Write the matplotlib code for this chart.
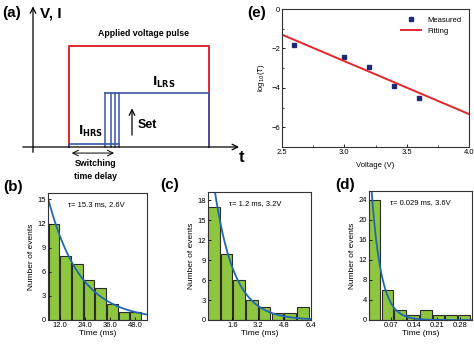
import numpy as np
import matplotlib
matplotlib.use('Agg')
import matplotlib.pyplot as plt
from matplotlib.ticker import MultipleLocator

plt.rcParams['font.family'] = ['Liberation Sans', 'DejaVu Sans']

W, H = 474, 347

# (a) switching schematic, arbitrary units
pulse_on, pulse_off = 1.0, 4.9
pulse_v = 1.0
i_hrs, i_lrs = 0.03, 0.535
switch_times = [2.0, 2.17, 2.28, 2.39]

# (b)-(d) switching time histograms
b_time = [9.0, 14.6, 20.2, 25.8, 31.4, 37.0, 42.6, 48.2]
b_counts = [12, 8, 7, 5, 4, 2, 1, 1]
b_tau, b_amp = 15.3, 22.6

c_time = [0.47, 1.24, 2.01, 2.79, 3.57, 4.36, 5.15, 5.94]
c_counts = [17, 10, 6, 3, 2, 1, 1, 2]
c_tau, c_amp = 1.2, 29.9

d_time = [0.020, 0.059, 0.097, 0.136, 0.175, 0.214, 0.252, 0.291]
d_counts = [24, 6, 2, 1, 2, 1, 1, 1]
d_tau, d_amp = 0.029, 37.5

# (e) log10(tau) vs voltage
volts = [2.6, 3.0, 3.2, 3.4, 3.6]
log_tau = [-1.83, -2.42, -2.92, -3.93, -4.53]
fit_v = [2.5, 4.0]
fit_log_tau = [-1.30, -5.33]

BAR = '#8fc640'
CURVE = '#2268b0'


def rect(left, top, right, bottom):
    return [left / W, 1 - bottom / H, (right - left) / W, (bottom - top) / H]


fig = plt.figure(figsize=(W / 100, H / 100), dpi=100)

# ---- (a) ----
ax = fig.add_axes(rect(0, 0, 250, 190))
ax.set_xlim(-33 / 36, 217 / 36)
ax.set_ylim(-43 / 101, 147 / 101)
ax.axis('off')
ax.annotate('', xy=(5.8, 0), xytext=(-0.36, 0),
            arrowprops=dict(arrowstyle='->', lw=0.9, color='black'))
ax.annotate('', xy=(0, 1.42), xytext=(0, -0.08),
            arrowprops=dict(arrowstyle='->', lw=0.9, color='black'))
ax.plot([pulse_on, pulse_on, pulse_off, pulse_off],
        [0, pulse_v, pulse_v, 0], color='#e0282e', lw=1.4)
blue = '#3a55a8'
ax.plot([pulse_on, pulse_on, switch_times[-1]], [0, i_hrs, i_hrs], color=blue, lw=1.2)
for t in switch_times:
    ax.plot([t, t], [0, i_lrs], color=blue, lw=1.1)
ax.plot([switch_times[0], pulse_off, pulse_off], [i_lrs, i_lrs, 0], color=blue, lw=1.2)
ax.annotate('', xy=(2.75, 0.41), xytext=(2.75, 0.09),
            arrowprops=dict(arrowstyle='->', lw=0.9, color='black'))
ax.text(2.92, 0.22, 'Set', fontsize=9, fontweight='bold', va='center')
ax.text(1.25, 0.08, r'$\mathbf{I_{HRS}}$', fontsize=8.5, va='bottom')
ax.text(3.3, 0.56, r'$\mathbf{I_{LRS}}$', fontsize=8.5, va='bottom')
ax.text(3.06, 1.12, 'Applied voltage pulse', fontsize=6.3, fontweight='bold',
        ha='center', va='center')
ax.annotate('', xy=(pulse_on, -0.06), xytext=(2.33, -0.06),
            arrowprops=dict(arrowstyle='<->', lw=0.7, color='black'))
ax.text(1.75, -0.16, 'Switching', fontsize=6.3, fontweight='bold', ha='center', va='center')
ax.text(1.75, -0.29, 'time delay', fontsize=6.3, fontweight='bold', ha='center', va='center')
fig.text(40 / W, 1 - 13 / H, 'V, I', fontsize=11, fontweight='bold', va='center')
fig.text(239 / W, 1 - 158 / H, 't', fontsize=12, fontweight='bold', va='center')


def style(ax):
    for s in ax.spines.values():
        s.set_linewidth(0.8)
        s.set_color('#333333')
    ax.tick_params(direction='in', length=2, width=0.6, labelsize=5.5, pad=1.5)
    ax.tick_params(which='minor', direction='in', length=1.2, width=0.5)


def hist_panel(pos, time, counts, tau, amp, xlim, ylim, xticks, xfmt, ystep, label):
    ax = fig.add_axes(rect(*pos))
    width = (time[1] - time[0]) * 0.92
    ax.bar(time, counts, width=width, color=BAR, edgecolor='#2b2b2b', linewidth=0.8)
    t = np.linspace(xlim[0], xlim[1], 300)
    ax.plot(t, amp * np.exp(-t / tau), color=CURVE, lw=1.3)
    ax.set_xlim(xlim)
    ax.set_ylim(ylim)
    ax.set_xticks(xticks)
    ax.set_xticklabels([xfmt.format(v) for v in xticks])
    ax.yaxis.set_major_locator(MultipleLocator(ystep))
    ax.set_xlabel('Time (ms)', fontsize=6, labelpad=1)
    ax.set_ylabel('Number of events', fontsize=6, labelpad=2)
    ax.text(0.2, 0.91, label, transform=ax.transAxes, fontsize=5.5, va='center')
    style(ax)
    return ax


hist_panel((48, 193, 147, 320), b_time, b_counts, b_tau, b_amp, (6.1, 53.6), (0, 15.8),
           [12, 24, 36, 48], '{:.1f}', 3, 'τ= 15.3 ms, 2.6V')
hist_panel((208, 192, 311, 320), c_time, c_counts, c_tau, c_amp, (0.1, 6.43), (0, 19.25),
           [1.6, 3.2, 4.8, 6.4], '{:.1f}', 3, 'τ= 1.2 ms, 3.2V')
hist_panel((369, 191, 472, 320), d_time, d_counts, d_tau, d_amp, (0.003, 0.316), (0, 25.7),
           [0.07, 0.14, 0.21, 0.28], '{:.2f}', 4, 'τ= 0.029 ms, 3.6V')

# ---- (e) ----
ax = fig.add_axes(rect(282, 9, 469, 147))
ax.plot(volts, log_tau, 's', color='#1c2a7a', markersize=3.3, label='Measured')
ax.plot(fit_v, fit_log_tau, color='#e3262b', lw=1.4, label='Fitting')
ax.set_xlim(2.5, 4.0)
ax.set_ylim(-7, 0)
ax.set_xticks([2.5, 3.0, 3.5, 4.0])
ax.set_yticks([0, -2, -4, -6])
ax.xaxis.set_minor_locator(MultipleLocator(0.25))
ax.yaxis.set_minor_locator(MultipleLocator(1))
ax.set_xlabel('Voltage (V)', fontsize=5.5, labelpad=4)
ax.set_ylabel(r'log$_{10}$($\tau$)', fontsize=5.5, labelpad=3)
ax.legend(loc='upper right', frameon=False, fontsize=5.5, handlelength=2.6,
          borderaxespad=0.6, labelspacing=0.5)
style(ax)

# panel letters
for x, y, s in [(2, 13, '(a)'), (3, 187, '(b)'), (160, 185, '(c)'),
                (335, 185, '(d)'), (247, 13, '(e)')]:
    fig.text(x / W, 1 - y / H, s, fontsize=11, fontweight='bold', va='center')

fig.savefig('out.png', dpi=100)
